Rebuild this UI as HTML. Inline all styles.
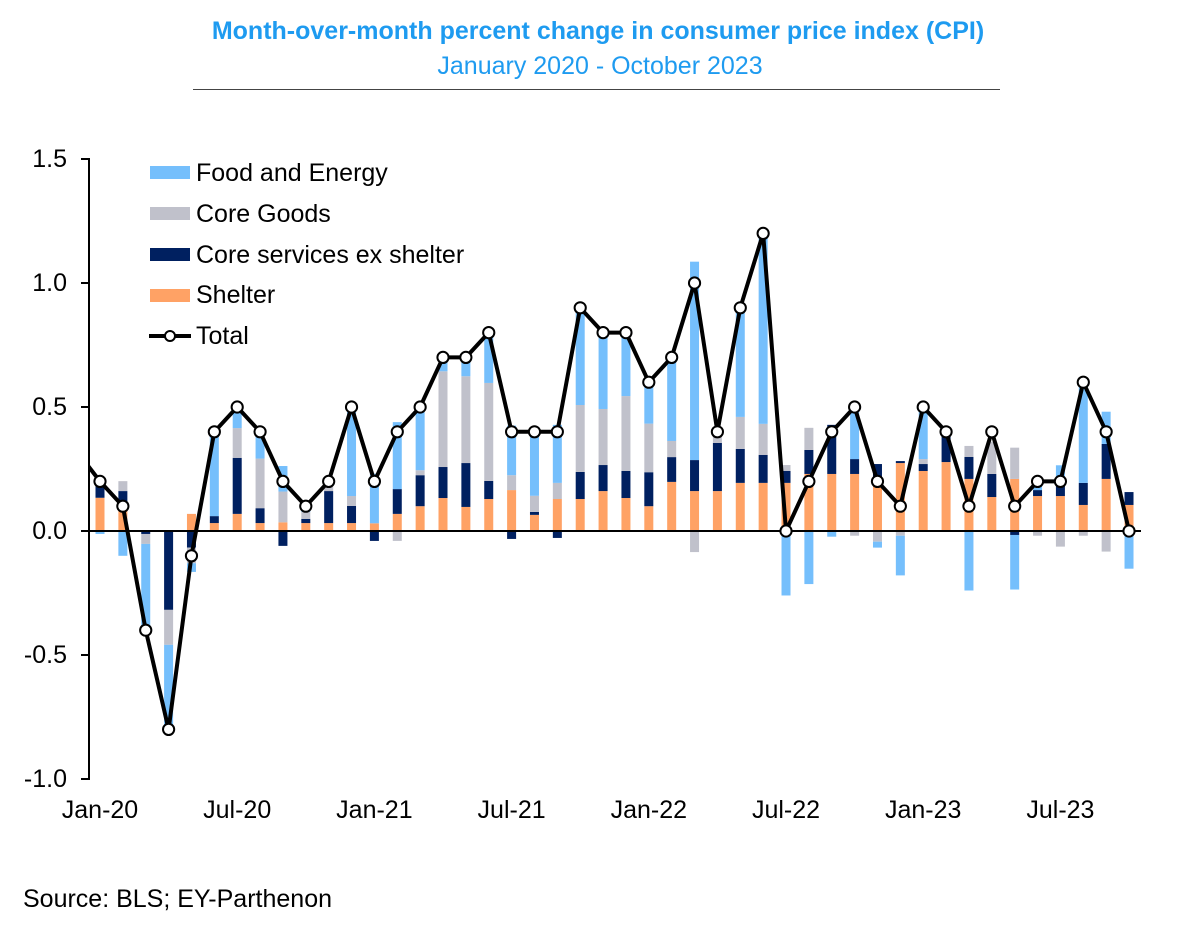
<!DOCTYPE html>
<html lang="en">
<head>
<meta charset="utf-8">
<title>Month-over-month percent change in CPI</title>
<style>
html,body{margin:0;padding:0;background:#fff;}
body{width:1196px;height:935px;overflow:hidden;position:relative;font-family:"Liberation Sans",Arial,sans-serif;}
svg{position:absolute;left:0;top:0;}
text{font-family:"Liberation Sans",Arial,sans-serif;}
</style>
</head>
<body>
<svg id="chart" width="1196" height="935" viewBox="0 0 1196 935">
  <text x="598" y="39" text-anchor="middle" font-size="25" font-weight="700" fill="#1E9BF0">Month-over-month percent change in consumer price index (CPI)</text>
  <text x="600" y="74" text-anchor="middle" font-size="25" fill="#1E9BF0">January 2020 - October 2023</text>
  <line x1="193" y1="89.5" x2="1000" y2="89.5" stroke="#444" stroke-width="1"/>
  <g id="bars"></g>
  <g id="axes"></g>
  <g id="series"></g>
  <g id="legend">
    <rect x="150" y="166" width="40" height="13" fill="#75BFFC"/>
    <text x="196" y="181" font-size="25" fill="#000">Food and Energy</text>
    <rect x="150" y="207" width="40" height="13" fill="#C0C1CB"/>
    <text x="196" y="222" font-size="25" fill="#000">Core Goods</text>
    <rect x="150" y="248" width="40" height="13" fill="#002060"/>
    <text x="196" y="263" font-size="25" fill="#000">Core services ex shelter</text>
    <rect x="150" y="289" width="40" height="13" fill="#FFA265"/>
    <text x="196" y="303" font-size="25" fill="#000">Shelter</text>
    <line x1="149" y1="336" x2="191" y2="336" stroke="#000" stroke-width="4"/>
    <circle cx="170" cy="336" r="5" fill="#fff" stroke="#000" stroke-width="2"/>
    <text x="196" y="344" font-size="25" fill="#000">Total</text>
  </g>
  <text x="23" y="907" font-size="25" fill="#000">Source: BLS; EY-Parthenon</text>
</svg>
<script>
const months = ["Jan-20","Feb-20","Mar-20","Apr-20","May-20","Jun-20","Jul-20","Aug-20","Sep-20","Oct-20","Nov-20","Dec-20",
  "Jan-21","Feb-21","Mar-21","Apr-21","May-21","Jun-21","Jul-21","Aug-21","Sep-21","Oct-21","Nov-21","Dec-21",
  "Jan-22","Feb-22","Mar-22","Apr-22","May-22","Jun-22","Jul-22","Aug-22","Sep-22","Oct-22","Nov-22","Dec-22",
  "Jan-23","Feb-23","Mar-23","Apr-23","May-23","Jun-23","Jul-23","Aug-23","Sep-23","Oct-23"];
const shelter = [.134,.085,0,0,.069,.032,.069,.032,.035,.032,.032,.032,
  .031,.069,.1,.133,.097,.129,.165,.065,.129,.129,.161,.133,
  .1,.198,.161,.161,.194,.194,.194,.23,.23,.23,.185,.274,
  .242,.278,.21,.137,.21,.141,.141,.105,.21,.105];
const coreServices = [.066,.076,-.012,-.318,-.067,.028,.226,.06,-.06,.017,.129,.069,
  -.04,.1,.125,.125,.177,.073,-.032,.012,-.028,.109,.105,.109,
  .137,.1,.125,.194,.137,.113,.048,.097,.198,.06,.085,.008,
  .028,.109,.089,.093,-.016,.024,.044,.089,.141,.052];
const coreGoods = [0,.04,-.04,-.141,-.063,0,.12,.2,.124,.028,.017,.04,
  0,-.04,.02,.386,.35,.395,.06,.065,.065,.27,.226,.302,
  .196,.065,-.085,.04,.129,.125,.024,.089,0,-.019,-.043,-.019,
  .02,0,.044,.13,.126,-.019,-.063,-.019,-.083,0];
const foodEnergy = [-.012,-.1,-.35,-.323,-.035,.34,.085,.1,.103,.02,0,.34,
  .2,.27,.235,.06,.065,.2,.2,.255,.234,.39,.31,.26,
  .168,.34,.8,0,.44,.77,-.26,-.214,-.023,.19,-.024,-.16,
  .21,0,-.24,0,-.22,.02,.08,.4,.13,-.152];
const total = [.2,.1,-.4,-.8,-.1,.4,.5,.4,.2,.1,.2,.5,
  .2,.4,.5,.7,.7,.8,.4,.4,.4,.9,.8,.8,
  .6,.7,1,.4,.9,1.2,0,.2,.4,.5,.2,.1,
  .5,.4,.1,.4,.1,.2,.2,.6,.4,0];
const totalBeforeStart = [.32];
const yTicks = [1.5,1,.5,0,-.5,-1];
const yTickLabels = ["1.5","1.0","0.5","0.0","-0.5","-1.0"];
const xTickMonths = ["Jan-20","Jul-20","Jan-21","Jul-21","Jan-22","Jul-22","Jan-23","Jul-23"];

const NS = "http://www.w3.org/2000/svg";
const xScale = i => 100 + i * 22.867;
const yScale = v => 531 - v * 248;
const make = (parent, tag, attrs) => {
  const el = document.createElementNS(NS, tag);
  for (const k in attrs) el.setAttribute(k, attrs[k]);
  parent.appendChild(el);
  return el;
};

const barsG = document.getElementById("bars");
const stackSeries = [[shelter,"#FFA265","shelter"],[coreServices,"#002060","core-services"],[coreGoods,"#C0C1CB","core-goods"],[foodEnergy,"#75BFFC","food-energy"]];
months.forEach((m, i) => {
  let pos = 0, neg = 0;
  stackSeries.forEach(s => {
    const v = s[0][i];
    if (!v) return;
    const start = v > 0 ? pos : neg;
    const end = start + v;
    if (v > 0) pos = end; else neg = end;
    const top = Math.min(yScale(start), yScale(end));
    const h = Math.abs(yScale(start) - yScale(end));
    const r = make(barsG, "rect", {x: xScale(i) - 4.5, y: top, width: 9, height: h, fill: s[1]});
    
    
  });
});

const axesG = document.getElementById("axes");
const yAxisLine = make(axesG, "line", {x1: 89, x2: 89, y1: yScale(1.5) - 1, y2: yScale(-1) + 1, stroke: "#000", "stroke-width": 2});


const zeroLine = make(axesG, "line", {x1: 89, x2: 1141, y1: yScale(0), y2: yScale(0), stroke: "#000", "stroke-width": 2});


yTicks.forEach((t, i) => {
  const tick = make(axesG, "line", {x1: 81, x2: 89, y1: yScale(t), y2: yScale(t), stroke: "#000", "stroke-width": 2});
  
  
  const lab = make(axesG, "text", {x: 67, y: yScale(t) + 8, "text-anchor": "end", "font-size": 25, fill: "#000"});
  lab.textContent = yTickLabels[i];
  
  
});
xTickMonths.forEach(m => {
  const lab = make(axesG, "text", {x: xScale(months.indexOf(m)), y: 818, "text-anchor": "middle", "font-size": 25, fill: "#000"});
  lab.textContent = m;
  
  
});

const seriesG = document.getElementById("series");
const defs = make(seriesG, "defs", {});
const clip = make(defs, "clipPath", {id: "plot-clip"});
make(clip, "rect", {x: 89, y: 100, width: 1060, height: 720});
const allPts = totalBeforeStart.map(v => [xScale(-1), yScale(v)]).concat(total.map((v, i) => [xScale(i), yScale(v)]));
const totalLine = make(seriesG, "polyline", {points: allPts.map(p => p.join(",")).join(" "), fill: "none", stroke: "#000", "stroke-width": 4, "stroke-linejoin": "round", "clip-path": "url(#plot-clip)"});


total.forEach((v, i) => {
  const c = make(seriesG, "circle", {cx: xScale(i), cy: yScale(v), r: 5.6, fill: "#fff", stroke: "#000", "stroke-width": 2});
  
  
});
</script>
</body>
</html>
